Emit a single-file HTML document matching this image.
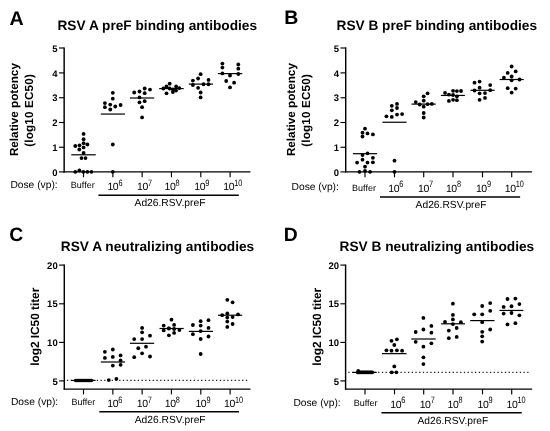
<!DOCTYPE html>
<html lang="en"><head><meta charset="utf-8"><title>RSV preF antibodies</title>
<style>
html,body{margin:0;padding:0;background:#fff;}
body{width:550px;height:431px;overflow:hidden;}
svg{display:block;}
svg text{font-family:"Liberation Sans", sans-serif;fill:#000;text-rendering:geometricPrecision;}
</style></head><body>
<svg width="550" height="431" viewBox="0 0 550 431">
<rect width="550" height="431" fill="#fff"/>
<g id="A">
<text x="9.60" y="24.60" font-size="19.6" font-weight="bold" text-anchor="start" >A</text>
<text x="157.25" y="30.30" font-size="13.68" font-weight="bold" text-anchor="middle" >RSV A preF binding antibodies</text>
<line x1="64.15" y1="47.40" x2="64.15" y2="172.50" stroke="#000" stroke-width="1.45"/>
<line x1="63.55" y1="171.90" x2="250.40" y2="171.90" stroke="#000" stroke-width="1.25"/>
<line x1="58.95" y1="48.00" x2="64.15" y2="48.00" stroke="#000" stroke-width="1.15"/>
<text x="57.55" y="51.60" font-size="9.5" font-weight="bold" text-anchor="end" >5</text>
<line x1="58.95" y1="72.90" x2="64.15" y2="72.90" stroke="#000" stroke-width="1.15"/>
<text x="57.55" y="76.50" font-size="9.5" font-weight="bold" text-anchor="end" >4</text>
<line x1="58.95" y1="97.75" x2="64.15" y2="97.75" stroke="#000" stroke-width="1.15"/>
<text x="57.55" y="101.35" font-size="9.5" font-weight="bold" text-anchor="end" >3</text>
<line x1="58.95" y1="122.50" x2="64.15" y2="122.50" stroke="#000" stroke-width="1.15"/>
<text x="57.55" y="126.10" font-size="9.5" font-weight="bold" text-anchor="end" >2</text>
<line x1="58.95" y1="147.25" x2="64.15" y2="147.25" stroke="#000" stroke-width="1.15"/>
<text x="57.55" y="150.85" font-size="9.5" font-weight="bold" text-anchor="end" >1</text>
<line x1="58.95" y1="171.90" x2="64.15" y2="171.90" stroke="#000" stroke-width="1.15"/>
<text x="57.55" y="175.50" font-size="9.5" font-weight="bold" text-anchor="end" >0</text>
<line x1="83.50" y1="171.90" x2="83.50" y2="177.30" stroke="#000" stroke-width="1.15"/>
<line x1="112.85" y1="171.90" x2="112.85" y2="177.30" stroke="#000" stroke-width="1.15"/>
<line x1="142.15" y1="171.90" x2="142.15" y2="177.30" stroke="#000" stroke-width="1.15"/>
<line x1="171.45" y1="171.90" x2="171.45" y2="177.30" stroke="#000" stroke-width="1.15"/>
<line x1="200.80" y1="171.90" x2="200.80" y2="177.30" stroke="#000" stroke-width="1.15"/>
<line x1="230.10" y1="171.90" x2="230.10" y2="177.30" stroke="#000" stroke-width="1.15"/>
<text transform="translate(18.30,109.60) rotate(-90)" font-size="11.7" font-weight="bold" text-anchor="middle" textLength="93.0">Relative potency</text>
<text transform="translate(32.90,110.50) rotate(-90)" font-size="11.7" font-weight="bold" text-anchor="middle" textLength="72.7">(log10 EC50)</text>
<text x="10.40" y="188.00" font-size="10.25" font-weight="normal" text-anchor="start" >Dose (vp):</text>
<text x="82.80" y="188.40" font-size="9.0" font-weight="normal" text-anchor="middle" >Buffer</text>
<text x="107.45" y="190.20" font-size="10.5" letter-spacing="-0.45">10</text>
<text transform="translate(118.45,185.70) scale(0.8,1)" font-size="9.2" letter-spacing="-0.3">6</text>
<text x="137.05" y="190.20" font-size="10.5" letter-spacing="-0.45">10</text>
<text transform="translate(148.05,185.70) scale(0.8,1)" font-size="9.2" letter-spacing="-0.3">7</text>
<text x="164.55" y="190.20" font-size="10.5" letter-spacing="-0.45">10</text>
<text transform="translate(175.55,185.70) scale(0.8,1)" font-size="9.2" letter-spacing="-0.3">8</text>
<text x="194.30" y="190.20" font-size="10.5" letter-spacing="-0.45">10</text>
<text transform="translate(205.30,185.70) scale(0.8,1)" font-size="9.2" letter-spacing="-0.3">9</text>
<text x="223.30" y="190.20" font-size="10.5" letter-spacing="-0.45">10</text>
<text transform="translate(234.30,185.70) scale(0.8,1)" font-size="9.2" letter-spacing="-0.3">10</text>
<line x1="98.40" y1="195.15" x2="238.80" y2="195.15" stroke="#000" stroke-width="1.45"/>
<text x="170.00" y="206.30" font-size="10.25" font-weight="normal" text-anchor="middle" >Ad26.RSV.preF</text>
<circle cx="83.60" cy="133.90" r="1.9"/>
<circle cx="83.60" cy="139.20" r="1.9"/>
<circle cx="83.60" cy="143.20" r="1.9"/>
<circle cx="87.40" cy="144.50" r="1.9"/>
<circle cx="79.50" cy="145.30" r="1.9"/>
<circle cx="75.30" cy="146.00" r="1.9"/>
<circle cx="83.60" cy="147.40" r="1.9"/>
<circle cx="79.30" cy="149.50" r="1.9"/>
<circle cx="83.60" cy="153.00" r="1.9"/>
<circle cx="81.50" cy="158.10" r="1.9"/>
<circle cx="85.50" cy="158.10" r="1.9"/>
<circle cx="75.30" cy="171.80" r="1.9"/>
<circle cx="79.40" cy="170.50" r="1.9"/>
<circle cx="83.40" cy="171.80" r="1.9"/>
<circle cx="87.40" cy="171.80" r="1.9"/>
<circle cx="91.40" cy="171.80" r="1.9"/>
<line x1="71.30" y1="154.80" x2="95.70" y2="154.80" stroke="#000" stroke-width="1.2"/>
<circle cx="112.80" cy="92.80" r="1.9"/>
<circle cx="112.80" cy="98.65" r="1.9"/>
<circle cx="104.90" cy="103.10" r="1.9"/>
<circle cx="110.25" cy="104.60" r="1.9"/>
<circle cx="120.60" cy="105.00" r="1.9"/>
<circle cx="115.30" cy="106.50" r="1.9"/>
<circle cx="104.90" cy="107.20" r="1.9"/>
<circle cx="110.25" cy="109.50" r="1.9"/>
<circle cx="112.80" cy="144.50" r="1.9"/>
<circle cx="112.80" cy="171.80" r="1.9"/>
<line x1="100.80" y1="114.05" x2="125.00" y2="114.05" stroke="#000" stroke-width="1.2"/>
<circle cx="144.70" cy="88.50" r="1.9"/>
<circle cx="150.00" cy="89.60" r="1.9"/>
<circle cx="139.50" cy="91.50" r="1.9"/>
<circle cx="134.20" cy="92.50" r="1.9"/>
<circle cx="144.70" cy="93.20" r="1.9"/>
<circle cx="139.50" cy="97.40" r="1.9"/>
<circle cx="144.70" cy="101.20" r="1.9"/>
<circle cx="139.50" cy="102.30" r="1.9"/>
<circle cx="142.10" cy="107.20" r="1.9"/>
<circle cx="142.10" cy="117.40" r="1.9"/>
<line x1="130.00" y1="98.00" x2="154.20" y2="98.00" stroke="#000" stroke-width="1.2"/>
<circle cx="169.70" cy="83.70" r="1.9"/>
<circle cx="166.50" cy="86.50" r="1.9"/>
<circle cx="176.10" cy="86.50" r="1.9"/>
<circle cx="163.40" cy="88.50" r="1.9"/>
<circle cx="169.70" cy="88.50" r="1.9"/>
<circle cx="179.30" cy="88.10" r="1.9"/>
<circle cx="172.90" cy="89.30" r="1.9"/>
<circle cx="176.10" cy="90.60" r="1.9"/>
<circle cx="172.90" cy="92.00" r="1.9"/>
<circle cx="166.50" cy="93.30" r="1.9"/>
<line x1="159.20" y1="88.60" x2="183.70" y2="88.60" stroke="#000" stroke-width="1.2"/>
<circle cx="200.65" cy="74.20" r="1.9"/>
<circle cx="198.10" cy="78.50" r="1.9"/>
<circle cx="192.90" cy="80.60" r="1.9"/>
<circle cx="208.50" cy="79.90" r="1.9"/>
<circle cx="192.90" cy="85.00" r="1.9"/>
<circle cx="203.50" cy="84.25" r="1.9"/>
<circle cx="208.50" cy="84.25" r="1.9"/>
<circle cx="198.10" cy="87.80" r="1.9"/>
<circle cx="200.65" cy="92.50" r="1.9"/>
<circle cx="200.65" cy="97.40" r="1.9"/>
<line x1="188.80" y1="84.10" x2="213.00" y2="84.10" stroke="#000" stroke-width="1.2"/>
<circle cx="222.40" cy="63.60" r="1.9"/>
<circle cx="238.30" cy="64.50" r="1.9"/>
<circle cx="222.40" cy="67.60" r="1.9"/>
<circle cx="238.30" cy="68.65" r="1.9"/>
<circle cx="222.40" cy="73.40" r="1.9"/>
<circle cx="238.30" cy="74.00" r="1.9"/>
<circle cx="230.00" cy="75.50" r="1.9"/>
<circle cx="226.20" cy="81.00" r="1.9"/>
<circle cx="234.10" cy="82.65" r="1.9"/>
<circle cx="230.00" cy="87.40" r="1.9"/>
<line x1="217.90" y1="73.60" x2="242.30" y2="73.60" stroke="#000" stroke-width="1.2"/>
</g>
<g id="B">
<text x="284.30" y="24.40" font-size="19.5" font-weight="bold" text-anchor="start" >B</text>
<text x="436.80" y="30.30" font-size="13.68" font-weight="bold" text-anchor="middle" >RSV B preF binding antibodies</text>
<line x1="345.70" y1="47.40" x2="345.70" y2="172.50" stroke="#000" stroke-width="1.45"/>
<line x1="345.10" y1="171.90" x2="532.10" y2="171.90" stroke="#000" stroke-width="1.25"/>
<line x1="340.50" y1="48.00" x2="345.70" y2="48.00" stroke="#000" stroke-width="1.15"/>
<text x="339.10" y="51.60" font-size="9.5" font-weight="bold" text-anchor="end" >5</text>
<line x1="340.50" y1="72.90" x2="345.70" y2="72.90" stroke="#000" stroke-width="1.15"/>
<text x="339.10" y="76.50" font-size="9.5" font-weight="bold" text-anchor="end" >4</text>
<line x1="340.50" y1="97.75" x2="345.70" y2="97.75" stroke="#000" stroke-width="1.15"/>
<text x="339.10" y="101.35" font-size="9.5" font-weight="bold" text-anchor="end" >3</text>
<line x1="340.50" y1="122.50" x2="345.70" y2="122.50" stroke="#000" stroke-width="1.15"/>
<text x="339.10" y="126.10" font-size="9.5" font-weight="bold" text-anchor="end" >2</text>
<line x1="340.50" y1="147.25" x2="345.70" y2="147.25" stroke="#000" stroke-width="1.15"/>
<text x="339.10" y="150.85" font-size="9.5" font-weight="bold" text-anchor="end" >1</text>
<line x1="340.50" y1="171.90" x2="345.70" y2="171.90" stroke="#000" stroke-width="1.15"/>
<text x="339.10" y="175.50" font-size="9.5" font-weight="bold" text-anchor="end" >0</text>
<line x1="365.00" y1="171.90" x2="365.00" y2="177.30" stroke="#000" stroke-width="1.15"/>
<line x1="394.50" y1="171.90" x2="394.50" y2="177.30" stroke="#000" stroke-width="1.15"/>
<line x1="423.70" y1="171.90" x2="423.70" y2="177.30" stroke="#000" stroke-width="1.15"/>
<line x1="453.00" y1="171.90" x2="453.00" y2="177.30" stroke="#000" stroke-width="1.15"/>
<line x1="482.50" y1="171.90" x2="482.50" y2="177.30" stroke="#000" stroke-width="1.15"/>
<line x1="511.70" y1="171.90" x2="511.70" y2="177.30" stroke="#000" stroke-width="1.15"/>
<text transform="translate(294.90,109.60) rotate(-90)" font-size="11.7" font-weight="bold" text-anchor="middle" textLength="93.0">Relative potency</text>
<text transform="translate(310.20,110.50) rotate(-90)" font-size="11.7" font-weight="bold" text-anchor="middle" textLength="72.7">(log10 EC50)</text>
<text x="291.60" y="190.00" font-size="10.25" font-weight="normal" text-anchor="start" >Dose (vp):</text>
<text x="364.00" y="190.50" font-size="9.0" font-weight="normal" text-anchor="middle" >Buffer</text>
<text x="388.30" y="191.80" font-size="10.5" letter-spacing="-0.45">10</text>
<text transform="translate(399.30,187.30) scale(0.8,1)" font-size="9.2" letter-spacing="-0.3">6</text>
<text x="418.00" y="191.80" font-size="10.5" letter-spacing="-0.45">10</text>
<text transform="translate(429.00,187.30) scale(0.8,1)" font-size="9.2" letter-spacing="-0.3">7</text>
<text x="445.90" y="191.80" font-size="10.5" letter-spacing="-0.45">10</text>
<text transform="translate(456.90,187.30) scale(0.8,1)" font-size="9.2" letter-spacing="-0.3">8</text>
<text x="475.90" y="191.80" font-size="10.5" letter-spacing="-0.45">10</text>
<text transform="translate(486.90,187.30) scale(0.8,1)" font-size="9.2" letter-spacing="-0.3">9</text>
<text x="504.80" y="191.80" font-size="10.5" letter-spacing="-0.45">10</text>
<text transform="translate(515.80,187.30) scale(0.8,1)" font-size="9.2" letter-spacing="-0.3">10</text>
<line x1="380.00" y1="196.95" x2="520.10" y2="196.95" stroke="#000" stroke-width="1.45"/>
<text x="451.05" y="207.80" font-size="10.25" font-weight="normal" text-anchor="middle" >Ad26.RSV.preF</text>
<circle cx="365.00" cy="128.65" r="1.9"/>
<circle cx="362.50" cy="132.70" r="1.9"/>
<circle cx="367.50" cy="133.40" r="1.9"/>
<circle cx="372.90" cy="134.40" r="1.9"/>
<circle cx="362.50" cy="136.50" r="1.9"/>
<circle cx="367.50" cy="153.30" r="1.9"/>
<circle cx="362.50" cy="155.00" r="1.9"/>
<circle cx="372.90" cy="157.80" r="1.9"/>
<circle cx="362.50" cy="159.70" r="1.9"/>
<circle cx="357.10" cy="162.60" r="1.9"/>
<circle cx="367.50" cy="162.60" r="1.9"/>
<circle cx="372.90" cy="162.30" r="1.9"/>
<circle cx="365.00" cy="166.70" r="1.9"/>
<circle cx="359.50" cy="171.80" r="1.9"/>
<circle cx="365.00" cy="170.90" r="1.9"/>
<circle cx="370.10" cy="171.80" r="1.9"/>
<line x1="352.90" y1="153.70" x2="377.10" y2="153.70" stroke="#000" stroke-width="1.2"/>
<circle cx="397.00" cy="103.90" r="1.9"/>
<circle cx="391.80" cy="105.80" r="1.9"/>
<circle cx="397.00" cy="108.00" r="1.9"/>
<circle cx="391.80" cy="110.30" r="1.9"/>
<circle cx="402.10" cy="114.10" r="1.9"/>
<circle cx="397.00" cy="114.60" r="1.9"/>
<circle cx="386.45" cy="116.30" r="1.9"/>
<circle cx="391.80" cy="116.90" r="1.9"/>
<circle cx="394.50" cy="160.70" r="1.9"/>
<circle cx="394.50" cy="171.80" r="1.9"/>
<line x1="382.40" y1="122.25" x2="406.60" y2="122.25" stroke="#000" stroke-width="1.2"/>
<circle cx="427.60" cy="93.30" r="1.9"/>
<circle cx="423.70" cy="96.30" r="1.9"/>
<circle cx="423.70" cy="100.70" r="1.9"/>
<circle cx="415.75" cy="102.10" r="1.9"/>
<circle cx="419.70" cy="104.50" r="1.9"/>
<circle cx="427.60" cy="104.20" r="1.9"/>
<circle cx="431.80" cy="103.90" r="1.9"/>
<circle cx="423.70" cy="106.70" r="1.9"/>
<circle cx="423.70" cy="113.00" r="1.9"/>
<circle cx="423.70" cy="117.50" r="1.9"/>
<line x1="411.50" y1="104.10" x2="435.75" y2="104.10" stroke="#000" stroke-width="1.2"/>
<circle cx="453.05" cy="90.80" r="1.9"/>
<circle cx="456.90" cy="91.10" r="1.9"/>
<circle cx="461.05" cy="91.00" r="1.9"/>
<circle cx="445.05" cy="92.90" r="1.9"/>
<circle cx="448.90" cy="94.60" r="1.9"/>
<circle cx="453.05" cy="95.00" r="1.9"/>
<circle cx="456.90" cy="96.30" r="1.9"/>
<circle cx="448.90" cy="100.90" r="1.9"/>
<circle cx="453.05" cy="99.80" r="1.9"/>
<circle cx="456.90" cy="100.20" r="1.9"/>
<line x1="440.90" y1="95.45" x2="464.90" y2="95.45" stroke="#000" stroke-width="1.2"/>
<circle cx="474.50" cy="82.65" r="1.9"/>
<circle cx="479.60" cy="81.60" r="1.9"/>
<circle cx="490.20" cy="85.10" r="1.9"/>
<circle cx="479.60" cy="87.70" r="1.9"/>
<circle cx="474.50" cy="90.50" r="1.9"/>
<circle cx="490.20" cy="90.20" r="1.9"/>
<circle cx="479.60" cy="93.30" r="1.9"/>
<circle cx="485.00" cy="93.10" r="1.9"/>
<circle cx="485.00" cy="97.90" r="1.9"/>
<circle cx="479.60" cy="99.80" r="1.9"/>
<line x1="470.50" y1="90.30" x2="494.70" y2="90.30" stroke="#000" stroke-width="1.2"/>
<circle cx="511.65" cy="66.50" r="1.9"/>
<circle cx="515.70" cy="71.40" r="1.9"/>
<circle cx="507.70" cy="72.90" r="1.9"/>
<circle cx="511.65" cy="76.50" r="1.9"/>
<circle cx="503.90" cy="77.75" r="1.9"/>
<circle cx="511.65" cy="80.30" r="1.9"/>
<circle cx="519.50" cy="79.50" r="1.9"/>
<circle cx="507.70" cy="88.20" r="1.9"/>
<circle cx="515.70" cy="88.60" r="1.9"/>
<circle cx="511.65" cy="92.60" r="1.9"/>
<line x1="499.60" y1="79.50" x2="523.75" y2="79.50" stroke="#000" stroke-width="1.2"/>
</g>
<g id="C">
<text x="9.30" y="241.30" font-size="19.3" font-weight="bold" text-anchor="start" >C</text>
<text x="157.50" y="250.60" font-size="13.68" font-weight="bold" text-anchor="middle" >RSV A neutralizing antibodies</text>
<line x1="64.30" y1="264.50" x2="64.30" y2="389.60" stroke="#000" stroke-width="1.45"/>
<line x1="63.70" y1="389.00" x2="250.50" y2="389.00" stroke="#000" stroke-width="1.25"/>
<line x1="59.10" y1="265.10" x2="64.30" y2="265.10" stroke="#000" stroke-width="1.15"/>
<text x="57.70" y="268.70" font-size="9.5" font-weight="bold" text-anchor="end" >20</text>
<line x1="59.10" y1="303.80" x2="64.30" y2="303.80" stroke="#000" stroke-width="1.15"/>
<text x="57.70" y="307.40" font-size="9.5" font-weight="bold" text-anchor="end" >15</text>
<line x1="59.10" y1="342.40" x2="64.30" y2="342.40" stroke="#000" stroke-width="1.15"/>
<text x="57.70" y="346.00" font-size="9.5" font-weight="bold" text-anchor="end" >10</text>
<line x1="59.10" y1="380.90" x2="64.30" y2="380.90" stroke="#000" stroke-width="1.15"/>
<text x="57.70" y="384.50" font-size="9.5" font-weight="bold" text-anchor="end" >5</text>
<line x1="83.50" y1="389.00" x2="83.50" y2="394.40" stroke="#000" stroke-width="1.15"/>
<line x1="112.85" y1="389.00" x2="112.85" y2="394.40" stroke="#000" stroke-width="1.15"/>
<line x1="142.15" y1="389.00" x2="142.15" y2="394.40" stroke="#000" stroke-width="1.15"/>
<line x1="171.45" y1="389.00" x2="171.45" y2="394.40" stroke="#000" stroke-width="1.15"/>
<line x1="200.80" y1="389.00" x2="200.80" y2="394.40" stroke="#000" stroke-width="1.15"/>
<line x1="230.10" y1="389.00" x2="230.10" y2="394.40" stroke="#000" stroke-width="1.15"/>
<text transform="translate(38.90,326.70) rotate(-90)" font-size="11.9" font-weight="bold" text-anchor="middle" textLength="78.0">log2 IC50 titer</text>
<text x="10.95" y="404.70" font-size="10.25" font-weight="normal" text-anchor="start" >Dose (vp):</text>
<text x="83.35" y="404.90" font-size="9.0" font-weight="normal" text-anchor="middle" >Buffer</text>
<text x="107.25" y="407.10" font-size="10.5" letter-spacing="-0.45">10</text>
<text transform="translate(118.25,402.60) scale(0.8,1)" font-size="9.2" letter-spacing="-0.3">6</text>
<text x="136.85" y="407.10" font-size="10.5" letter-spacing="-0.45">10</text>
<text transform="translate(147.85,402.60) scale(0.8,1)" font-size="9.2" letter-spacing="-0.3">7</text>
<text x="164.75" y="407.10" font-size="10.5" letter-spacing="-0.45">10</text>
<text transform="translate(175.75,402.60) scale(0.8,1)" font-size="9.2" letter-spacing="-0.3">8</text>
<text x="195.40" y="407.10" font-size="10.5" letter-spacing="-0.45">10</text>
<text transform="translate(206.40,402.60) scale(0.8,1)" font-size="9.2" letter-spacing="-0.3">9</text>
<text x="224.10" y="407.10" font-size="10.5" letter-spacing="-0.45">10</text>
<text transform="translate(235.10,402.60) scale(0.8,1)" font-size="9.2" letter-spacing="-0.3">10</text>
<line x1="99.30" y1="411.75" x2="239.00" y2="411.75" stroke="#000" stroke-width="1.45"/>
<text x="170.20" y="422.80" font-size="10.25" font-weight="normal" text-anchor="middle" >Ad26.RSV.preF</text>
<line x1="66.95" y1="380.45" x2="247.60" y2="380.45" stroke="#222" stroke-width="1.25" stroke-dasharray="1.3 2.427"/>
<circle cx="75.70" cy="380.45" r="1.8"/>
<circle cx="76.75" cy="380.45" r="1.8"/>
<circle cx="77.79" cy="380.45" r="1.8"/>
<circle cx="78.84" cy="380.45" r="1.8"/>
<circle cx="79.89" cy="380.45" r="1.8"/>
<circle cx="80.93" cy="380.45" r="1.8"/>
<circle cx="81.98" cy="380.45" r="1.8"/>
<circle cx="83.03" cy="380.45" r="1.8"/>
<circle cx="84.07" cy="380.45" r="1.8"/>
<circle cx="85.12" cy="380.45" r="1.8"/>
<circle cx="86.17" cy="380.45" r="1.8"/>
<circle cx="87.21" cy="380.45" r="1.8"/>
<circle cx="88.26" cy="380.45" r="1.8"/>
<circle cx="89.31" cy="380.45" r="1.8"/>
<circle cx="90.35" cy="380.45" r="1.8"/>
<circle cx="91.40" cy="380.45" r="1.8"/>
<line x1="71.20" y1="380.45" x2="95.60" y2="380.45" stroke="#000" stroke-width="1.2"/>
<circle cx="112.80" cy="349.50" r="1.9"/>
<circle cx="104.90" cy="351.80" r="1.9"/>
<circle cx="120.60" cy="355.40" r="1.9"/>
<circle cx="112.80" cy="356.90" r="1.9"/>
<circle cx="104.90" cy="357.90" r="1.9"/>
<circle cx="120.60" cy="360.50" r="1.9"/>
<circle cx="120.60" cy="364.80" r="1.9"/>
<circle cx="112.80" cy="365.60" r="1.9"/>
<circle cx="108.80" cy="380.10" r="1.9"/>
<circle cx="116.40" cy="378.80" r="1.9"/>
<line x1="100.80" y1="362.00" x2="125.00" y2="362.00" stroke="#000" stroke-width="1.2"/>
<circle cx="142.10" cy="327.90" r="1.9"/>
<circle cx="142.10" cy="332.30" r="1.9"/>
<circle cx="150.00" cy="335.65" r="1.9"/>
<circle cx="134.20" cy="339.10" r="1.9"/>
<circle cx="142.10" cy="339.10" r="1.9"/>
<circle cx="146.00" cy="346.70" r="1.9"/>
<circle cx="138.25" cy="348.25" r="1.9"/>
<circle cx="142.10" cy="353.30" r="1.9"/>
<circle cx="134.20" cy="357.20" r="1.9"/>
<circle cx="150.00" cy="356.50" r="1.9"/>
<line x1="130.00" y1="343.30" x2="154.20" y2="343.30" stroke="#000" stroke-width="1.2"/>
<circle cx="171.50" cy="319.65" r="1.9"/>
<circle cx="174.10" cy="324.90" r="1.9"/>
<circle cx="163.70" cy="325.60" r="1.9"/>
<circle cx="168.90" cy="328.35" r="1.9"/>
<circle cx="163.70" cy="330.40" r="1.9"/>
<circle cx="174.10" cy="329.00" r="1.9"/>
<circle cx="179.40" cy="330.10" r="1.9"/>
<circle cx="174.10" cy="332.90" r="1.9"/>
<circle cx="168.90" cy="335.30" r="1.9"/>
<circle cx="168.90" cy="328.50" r="1.9"/>
<line x1="159.50" y1="328.50" x2="183.70" y2="328.50" stroke="#000" stroke-width="1.2"/>
<circle cx="208.50" cy="320.20" r="1.9"/>
<circle cx="200.65" cy="321.20" r="1.9"/>
<circle cx="192.90" cy="325.00" r="1.9"/>
<circle cx="200.65" cy="325.60" r="1.9"/>
<circle cx="208.50" cy="327.90" r="1.9"/>
<circle cx="200.65" cy="331.10" r="1.9"/>
<circle cx="192.90" cy="334.20" r="1.9"/>
<circle cx="208.50" cy="336.50" r="1.9"/>
<circle cx="200.65" cy="339.00" r="1.9"/>
<circle cx="200.65" cy="354.00" r="1.9"/>
<line x1="188.80" y1="331.40" x2="213.00" y2="331.40" stroke="#000" stroke-width="1.2"/>
<circle cx="227.30" cy="299.80" r="1.9"/>
<circle cx="232.60" cy="302.35" r="1.9"/>
<circle cx="227.30" cy="313.50" r="1.9"/>
<circle cx="222.20" cy="315.20" r="1.9"/>
<circle cx="238.00" cy="314.40" r="1.9"/>
<circle cx="232.60" cy="317.10" r="1.9"/>
<circle cx="227.30" cy="317.60" r="1.9"/>
<circle cx="227.30" cy="321.60" r="1.9"/>
<circle cx="232.60" cy="324.00" r="1.9"/>
<circle cx="227.30" cy="326.90" r="1.9"/>
<line x1="218.00" y1="315.20" x2="242.20" y2="315.20" stroke="#000" stroke-width="1.2"/>
</g>
<g id="D">
<text x="283.70" y="241.30" font-size="19.3" font-weight="bold" text-anchor="start" >D</text>
<text x="436.90" y="250.60" font-size="13.7" font-weight="bold" text-anchor="middle" >RSV B neutralizing antibodies</text>
<line x1="345.60" y1="264.50" x2="345.60" y2="389.60" stroke="#000" stroke-width="1.45"/>
<line x1="345.00" y1="389.00" x2="532.10" y2="389.00" stroke="#000" stroke-width="1.25"/>
<line x1="340.40" y1="265.10" x2="345.60" y2="265.10" stroke="#000" stroke-width="1.15"/>
<text x="339.00" y="268.70" font-size="9.5" font-weight="bold" text-anchor="end" >20</text>
<line x1="340.40" y1="303.80" x2="345.60" y2="303.80" stroke="#000" stroke-width="1.15"/>
<text x="339.00" y="307.40" font-size="9.5" font-weight="bold" text-anchor="end" >15</text>
<line x1="340.40" y1="342.40" x2="345.60" y2="342.40" stroke="#000" stroke-width="1.15"/>
<text x="339.00" y="346.00" font-size="9.5" font-weight="bold" text-anchor="end" >10</text>
<line x1="340.40" y1="380.90" x2="345.60" y2="380.90" stroke="#000" stroke-width="1.15"/>
<text x="339.00" y="384.50" font-size="9.5" font-weight="bold" text-anchor="end" >5</text>
<line x1="365.00" y1="389.00" x2="365.00" y2="394.40" stroke="#000" stroke-width="1.15"/>
<line x1="394.50" y1="389.00" x2="394.50" y2="394.40" stroke="#000" stroke-width="1.15"/>
<line x1="423.70" y1="389.00" x2="423.70" y2="394.40" stroke="#000" stroke-width="1.15"/>
<line x1="453.00" y1="389.00" x2="453.00" y2="394.40" stroke="#000" stroke-width="1.15"/>
<line x1="482.50" y1="389.00" x2="482.50" y2="394.40" stroke="#000" stroke-width="1.15"/>
<line x1="511.70" y1="389.00" x2="511.70" y2="394.40" stroke="#000" stroke-width="1.15"/>
<text transform="translate(321.30,326.80) rotate(-90)" font-size="11.9" font-weight="bold" text-anchor="middle" textLength="78.0">log2 IC50 titer</text>
<text x="293.40" y="406.10" font-size="10.25" font-weight="normal" text-anchor="start" >Dose (vp):</text>
<text x="365.60" y="406.40" font-size="9.0" font-weight="normal" text-anchor="middle" >Buffer</text>
<text x="390.30" y="407.95" font-size="10.5" letter-spacing="-0.45">10</text>
<text transform="translate(401.30,403.45) scale(0.8,1)" font-size="9.2" letter-spacing="-0.3">6</text>
<text x="419.70" y="407.95" font-size="10.5" letter-spacing="-0.45">10</text>
<text transform="translate(430.70,403.45) scale(0.8,1)" font-size="9.2" letter-spacing="-0.3">7</text>
<text x="447.60" y="407.95" font-size="10.5" letter-spacing="-0.45">10</text>
<text transform="translate(458.60,403.45) scale(0.8,1)" font-size="9.2" letter-spacing="-0.3">8</text>
<text x="477.50" y="407.95" font-size="10.5" letter-spacing="-0.45">10</text>
<text transform="translate(488.50,403.45) scale(0.8,1)" font-size="9.2" letter-spacing="-0.3">9</text>
<text x="506.60" y="407.95" font-size="10.5" letter-spacing="-0.45">10</text>
<text transform="translate(517.60,403.45) scale(0.8,1)" font-size="9.2" letter-spacing="-0.3">10</text>
<line x1="381.45" y1="412.70" x2="521.80" y2="412.70" stroke="#000" stroke-width="1.45"/>
<text x="452.90" y="423.55" font-size="10.25" font-weight="normal" text-anchor="middle" >Ad26.RSV.preF</text>
<line x1="348.30" y1="372.40" x2="529.00" y2="372.40" stroke="#222" stroke-width="1.25" stroke-dasharray="1.3 2.427"/>
<circle cx="357.60" cy="372.40" r="1.8"/>
<circle cx="358.66" cy="372.40" r="1.8"/>
<circle cx="359.71" cy="372.40" r="1.8"/>
<circle cx="360.77" cy="372.40" r="1.8"/>
<circle cx="361.83" cy="372.40" r="1.8"/>
<circle cx="362.89" cy="372.40" r="1.8"/>
<circle cx="363.94" cy="372.40" r="1.8"/>
<circle cx="365.00" cy="372.40" r="1.8"/>
<circle cx="366.06" cy="372.40" r="1.8"/>
<circle cx="367.11" cy="372.40" r="1.8"/>
<circle cx="368.17" cy="372.40" r="1.8"/>
<circle cx="369.23" cy="372.40" r="1.8"/>
<circle cx="370.29" cy="372.40" r="1.8"/>
<circle cx="371.34" cy="372.40" r="1.8"/>
<circle cx="372.40" cy="372.40" r="1.8"/>
<circle cx="358.25" cy="370.90" r="1.8"/>
<line x1="352.60" y1="372.40" x2="376.70" y2="372.40" stroke="#000" stroke-width="1.2"/>
<circle cx="396.90" cy="339.30" r="1.9"/>
<circle cx="391.50" cy="340.80" r="1.9"/>
<circle cx="394.30" cy="345.00" r="1.9"/>
<circle cx="386.45" cy="350.35" r="1.9"/>
<circle cx="391.50" cy="350.70" r="1.9"/>
<circle cx="396.90" cy="350.35" r="1.9"/>
<circle cx="402.10" cy="350.70" r="1.9"/>
<circle cx="394.30" cy="366.40" r="1.9"/>
<circle cx="391.70" cy="372.35" r="1.9"/>
<circle cx="396.40" cy="372.35" r="1.9"/>
<line x1="382.00" y1="353.65" x2="406.60" y2="353.65" stroke="#000" stroke-width="1.2"/>
<circle cx="423.40" cy="317.90" r="1.9"/>
<circle cx="431.40" cy="325.90" r="1.9"/>
<circle cx="423.40" cy="329.50" r="1.9"/>
<circle cx="415.70" cy="332.00" r="1.9"/>
<circle cx="431.40" cy="332.65" r="1.9"/>
<circle cx="415.70" cy="341.80" r="1.9"/>
<circle cx="431.40" cy="343.35" r="1.9"/>
<circle cx="423.40" cy="346.65" r="1.9"/>
<circle cx="423.40" cy="357.35" r="1.9"/>
<circle cx="423.40" cy="364.10" r="1.9"/>
<line x1="411.30" y1="339.00" x2="435.70" y2="339.00" stroke="#000" stroke-width="1.2"/>
<circle cx="452.90" cy="303.70" r="1.9"/>
<circle cx="452.90" cy="314.90" r="1.9"/>
<circle cx="452.90" cy="319.40" r="1.9"/>
<circle cx="445.00" cy="321.90" r="1.9"/>
<circle cx="460.90" cy="322.20" r="1.9"/>
<circle cx="452.90" cy="324.10" r="1.9"/>
<circle cx="456.70" cy="328.00" r="1.9"/>
<circle cx="448.80" cy="330.60" r="1.9"/>
<circle cx="456.70" cy="336.90" r="1.9"/>
<circle cx="448.80" cy="338.20" r="1.9"/>
<line x1="441.10" y1="323.80" x2="465.00" y2="323.80" stroke="#000" stroke-width="1.2"/>
<circle cx="490.20" cy="303.10" r="1.9"/>
<circle cx="482.20" cy="306.00" r="1.9"/>
<circle cx="490.20" cy="310.80" r="1.9"/>
<circle cx="474.20" cy="314.30" r="1.9"/>
<circle cx="482.20" cy="314.30" r="1.9"/>
<circle cx="482.20" cy="322.20" r="1.9"/>
<circle cx="490.20" cy="329.50" r="1.9"/>
<circle cx="482.20" cy="331.80" r="1.9"/>
<circle cx="482.20" cy="336.30" r="1.9"/>
<circle cx="482.20" cy="341.60" r="1.9"/>
<line x1="470.10" y1="320.60" x2="494.50" y2="320.60" stroke="#000" stroke-width="1.2"/>
<circle cx="507.50" cy="299.00" r="1.9"/>
<circle cx="515.40" cy="298.60" r="1.9"/>
<circle cx="519.40" cy="304.10" r="1.9"/>
<circle cx="511.50" cy="306.25" r="1.9"/>
<circle cx="503.65" cy="306.90" r="1.9"/>
<circle cx="503.65" cy="313.60" r="1.9"/>
<circle cx="511.50" cy="313.00" r="1.9"/>
<circle cx="519.40" cy="315.30" r="1.9"/>
<circle cx="515.40" cy="323.20" r="1.9"/>
<circle cx="507.50" cy="324.45" r="1.9"/>
<line x1="499.45" y1="310.45" x2="523.40" y2="310.45" stroke="#000" stroke-width="1.2"/>
</g>
</svg>
</body></html>
